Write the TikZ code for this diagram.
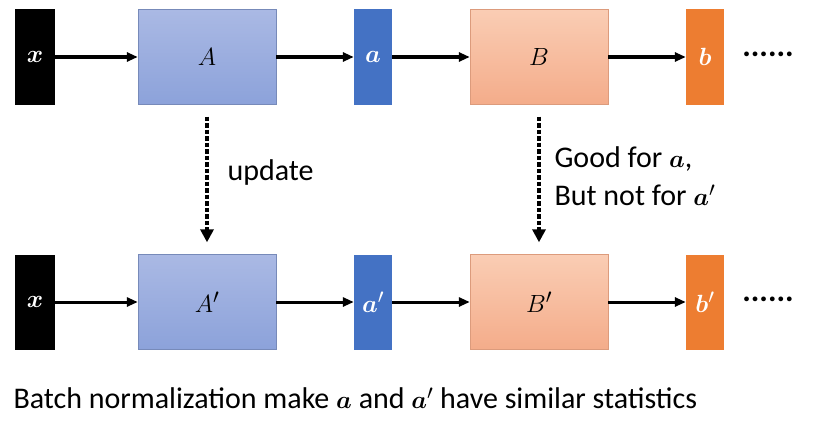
\documentclass[tikz,border=0pt]{standalone}
\usepackage{fontspec}
\setmainfont{Carlito}
\usepackage{amsmath,amssymb}
\usepackage{xcolor}
\usetikzlibrary{arrows.meta, positioning}
\definecolor{layerblue}{RGB}{68, 114, 196}
\definecolor{layerorange}{RGB}{237, 125, 49}
\definecolor{bluetop}{RGB}{170, 185, 228}
\definecolor{bluebot}{RGB}{140, 162, 218}
\definecolor{orangetop}{RGB}{250, 205, 180}
\definecolor{orangebot}{RGB}{244, 172, 138}

\begin{document}
\begin{tikzpicture}[x=1pt, y=-1pt,
    inp/.style={rectangle, fill=black, minimum width=40pt, minimum height=95pt, text=white, font=\fontsize{30}{34}\selectfont},
    feat/.style={rectangle, minimum width=38pt, minimum height=95pt, text=white, font=\fontsize{30}{34}\selectfont},
    layerA/.style={rectangle, draw=bluebot!85!black, top color=bluetop, bottom color=bluebot, minimum width=138pt, minimum height=95pt, font=\fontsize{30}{34}\selectfont},
    layerB/.style={rectangle, draw=orangebot!90!black, top color=orangetop, bottom color=orangebot, minimum width=138pt, minimum height=95pt, font=\fontsize{30}{34}\selectfont},
    arrow/.style={-{Triangle[length=11pt, width=9pt]}, line width=3pt},
    dotarrow/.style={-{Triangle[length=13pt, width=13pt]}, line width=4.5pt, dotted},
    lbl/.style={font=\fontsize{30}{38}\selectfont, align=left},
    dots/.style={font=\fontsize{32}{36}\selectfont\bfseries}
]
\useasboundingbox (0,0) rectangle (834,420);

% top row
\node[inp] (x1) at (35,57) {$\boldsymbol{x}$};
\node[layerA] (A1) at (207,57) {$A$};
\node[feat, fill=layerblue] (a1) at (373,57) {$\boldsymbol{a}$};
\node[layerB] (B1) at (539,57) {$B$};
\node[feat, fill=layerorange] (b1) at (705,57) {$\boldsymbol{b}$};
\node[dots] (d1) at (768,54) {......};

% bottom row
\node[inp] (x2) at (35,302) {$\boldsymbol{x}$};
\node[layerA] (A2) at (207,302) {$A'$};
\node[feat, fill=layerblue] (a2) at (373,302) {$\boldsymbol{a}'$};
\node[layerB] (B2) at (539,302) {$B'$};
\node[feat, fill=layerorange] (b2) at (705,302) {$\boldsymbol{b}'$};
\node[dots] (d2) at (768,299) {......};

\foreach \u/\v in {x1/A1, A1/a1, a1/B1, B1/b1, x2/A2, A2/a2, a2/B2, B2/b2}
    \draw[arrow] (\u) -- (\v);

\draw[dotarrow] ([yshift=-12pt]A1.south) -- ([yshift=12pt]A2.north);
\draw[dotarrow] ([yshift=-12pt]B1.south) -- ([yshift=12pt]B2.north);

\node[lbl, anchor=west] (upd) at (224,172) {update};
\node[lbl, anchor=west] (good) at (551,176) {Good for $\boldsymbol{a}$,\\But not for $\boldsymbol{a}'$};

\node[lbl, anchor=west] (note) at (10,398) {Batch normalization make $\boldsymbol{a}$ and $\boldsymbol{a}'$ have similar statistics};
\end{tikzpicture}
\end{document}
